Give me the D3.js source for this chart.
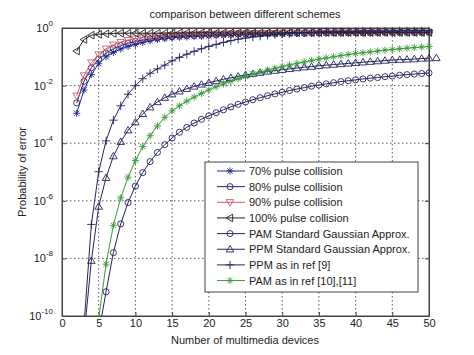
<!DOCTYPE html>
<html><head><meta charset="utf-8">
<script src="https://cdn.jsdelivr.net/npm/d3@7"></script>
<style>body{margin:0;background:#fff}svg{display:block;font-family:"Liberation Sans",Arial,sans-serif}</style>
</head><body><svg id="c" width="474" height="355"></svg>
<script>
const titleText = "comparison between different schemes";
const xLabelText = "Number of multimedia devices";
const yLabelText = "Probability of error";
const xTickValues = [0,5,10,15,20,25,30,35,40,45,50];
const yTickExps = [0,-2,-4,-6,-8,-10];
const legendNames = ["70% pulse collision","80% pulse collision","90% pulse collision","100% pulse collision",
  "PAM Standard Gaussian Approx.","PPM Standard Gaussian Approx.","PPM as in ref [9]","PAM as in ref [10],[11]"];

// log10(probability of error), one value per device count, starting at the given first N
const first70 = 2;
const log70 = [-2.96,-2.15,-1.62,-1.24,-1.0,-0.85,-0.73,-0.64,-0.57,-0.5,-0.44,-0.4,-0.37,-0.34,-0.32,-0.31,-0.3,-0.29,-0.28,-0.27,-0.26,-0.25,-0.24,-0.23,-0.22,-0.21,-0.21,-0.2,-0.2,-0.19,-0.19,-0.19,-0.18,-0.18,-0.18,-0.18,-0.17,-0.17,-0.17,-0.17,-0.17,-0.17,-0.16,-0.16,-0.16,-0.16,-0.16,-0.16,-0.16];
const first80 = 2;
const log80 = [-2.6,-1.85,-1.38,-1.08,-0.87,-0.72,-0.61,-0.53,-0.47,-0.42,-0.38,-0.35,-0.32,-0.3,-0.28,-0.27,-0.26,-0.25,-0.24,-0.23,-0.22,-0.21,-0.21,-0.2,-0.2,-0.19,-0.19,-0.19,-0.18,-0.18,-0.18,-0.18,-0.18,-0.17,-0.17,-0.17,-0.17,-0.17,-0.17,-0.17,-0.17,-0.16,-0.16,-0.16,-0.16,-0.16,-0.16,-0.16,-0.16];
const first90 = 2;
const log90 = [-2.35,-1.65,-1.2,-0.92,-0.72,-0.58,-0.49,-0.42,-0.37,-0.33,-0.3,-0.28,-0.26,-0.25,-0.24,-0.23,-0.22,-0.21,-0.21,-0.2,-0.2,-0.19,-0.19,-0.19,-0.18,-0.18,-0.18,-0.18,-0.17,-0.17,-0.17,-0.17,-0.17,-0.17,-0.17,-0.17,-0.16,-0.16,-0.16,-0.16,-0.16,-0.16,-0.16,-0.16,-0.16,-0.16,-0.16,-0.16,-0.16];
const first100 = 2;
const log100 = [-0.8,-0.4,-0.25,-0.22,-0.2,-0.19,-0.18,-0.18,-0.18,-0.18,-0.18,-0.18,-0.18,-0.18,-0.17,-0.17,-0.17,-0.17,-0.17,-0.17,-0.17,-0.17,-0.17,-0.17,-0.17,-0.17,-0.17,-0.17,-0.17,-0.16,-0.16,-0.16,-0.16,-0.16,-0.16,-0.16,-0.16,-0.16,-0.16,-0.16,-0.16,-0.16,-0.16,-0.16,-0.16,-0.16,-0.16,-0.16,-0.16];
const firstPamSga = 5;
const logPamSga = [-10.6,-9.16,-7.8,-6.8,-6.06,-5.49,-5.02,-4.64,-4.32,-4.05,-3.82,-3.62,-3.45,-3.3,-3.17,-3.05,-2.94,-2.84,-2.74,-2.65,-2.57,-2.49,-2.42,-2.35,-2.29,-2.23,-2.17,-2.12,-2.07,-2.02,-1.98,-1.94,-1.9,-1.86,-1.83,-1.8,-1.77,-1.74,-1.72,-1.69,-1.67,-1.64,-1.62,-1.6,-1.58,-1.56];
const firstPpmSga = 3;
const logPpmSga = [-10.7,-8.08,-6.2,-5.2,-4.45,-3.95,-3.55,-3.27,-2.98,-2.75,-2.57,-2.42,-2.3,-2.2,-2.11,-2.03,-1.96,-1.9,-1.84,-1.78,-1.73,-1.68,-1.63,-1.59,-1.55,-1.51,-1.48,-1.45,-1.42,-1.39,-1.36,-1.34,-1.31,-1.29,-1.27,-1.25,-1.23,-1.21,-1.19,-1.17,-1.15,-1.13,-1.11,-1.1,-1.09,-1.08,-1.06,-1.05,-1.04];
const firstPpmRef = 3;
const logPpmRef = [-10.3,-6.82,-4.99,-3.92,-3.2,-2.7,-2.3,-2.0,-1.76,-1.57,-1.42,-1.29,-1.14,-1.02,-0.91,-0.81,-0.72,-0.64,-0.57,-0.5,-0.44,-0.39,-0.35,-0.31,-0.28,-0.25,-0.23,-0.21,-0.19,-0.17,-0.16,-0.15,-0.14,-0.13,-0.13,-0.12,-0.12,-0.12,-0.11,-0.11,-0.11,-0.11,-0.11,-0.1,-0.1,-0.1,-0.1,-0.1];
const firstPamRef = 5;
const logPamRef = [-10.1,-8.2,-6.85,-5.9,-5.18,-4.6,-4.12,-3.74,-3.4,-3.1,-2.88,-2.7,-2.54,-2.4,-2.27,-2.15,-2.04,-1.94,-1.85,-1.76,-1.68,-1.6,-1.53,-1.46,-1.4,-1.34,-1.28,-1.23,-1.18,-1.13,-1.08,-1.04,-1.0,-0.96,-0.92,-0.89,-0.86,-0.83,-0.8,-0.77,-0.75,-0.72,-0.7,-0.68,-0.66,-0.64];

const NAVY = "#24245e", BLUE = "#2626a0", RED = "#cc5a6a", BLACK = "#222", GREEN = "#3a9a3a";
const series = [
  {name: legendNames[0], first: first70, logs: log70, color: BLUE, marker: "star"},
  {name: legendNames[1], first: first80, logs: log80, color: NAVY, marker: "circle"},
  {name: legendNames[2], first: first90, logs: log90, color: RED, marker: "tridown"},
  {name: legendNames[3], first: first100, logs: log100, color: BLACK, marker: "trileft"},
  {name: legendNames[4], first: firstPamSga, logs: logPamSga, color: NAVY, marker: "circle"},
  {name: legendNames[5], first: firstPpmSga, logs: logPpmSga, color: NAVY, marker: "triup"},
  {name: legendNames[6], first: firstPpmRef, logs: logPpmRef, color: NAVY, marker: "plus"},
  {name: legendNames[7], first: firstPamRef, logs: logPamRef, color: GREEN, marker: "star"}
];

const W = 474, H = 355;
const L = 62, R = 429, T = 28, B = 316;
const svg = d3.select("#c");
svg.append("rect").attr("width", W).attr("height", H).attr("fill", "#fff");

const x = d3.scaleLinear().domain([0, 50]).range([L, R]);
const y = d3.scaleLog().domain([1e-10, 1]).range([B, T]);

svg.append("defs").append("clipPath").attr("id", "clip")
  .append("rect").attr("x", L).attr("y", T).attr("width", R - L).attr("height", B - T);

// grid
const grid = svg.append("g").attr("stroke", "#333").attr("stroke-width", 0.8).attr("stroke-dasharray", "1.5,2.5");
xTickValues.slice(1, -1).forEach(v => grid.append("line").attr("x1", x(v)).attr("x2", x(v)).attr("y1", T).attr("y2", B));
yTickExps.slice(1, -1).forEach(e => grid.append("line").attr("x1", L).attr("x2", R).attr("y1", y(Math.pow(10, e))).attr("y2", y(Math.pow(10, e))));

// axes via d3 axis
const axB = svg.append("g").attr("transform", `translate(0,${B})`)
  .call(d3.axisBottom(x).tickValues(xTickValues).tickSizeInner(-4).tickSizeOuter(0).tickPadding(3));
const axT = svg.append("g").attr("transform", `translate(0,${T})`)
  .call(d3.axisTop(x).tickValues(xTickValues).tickSizeInner(-4).tickSizeOuter(0).tickFormat(""));
const yTickVals = yTickExps.map(e => Math.pow(10, e));
const axL = svg.append("g").attr("transform", `translate(${L},0)`)
  .call(d3.axisLeft(y).tickValues(yTickVals).tickSizeInner(-4).tickSizeOuter(0).tickFormat(""));
const axR = svg.append("g").attr("transform", `translate(${R},0)`)
  .call(d3.axisRight(y).tickValues(yTickVals).tickSizeInner(-4).tickSizeOuter(0).tickFormat(""));
[axB, axT, axL, axR].forEach(a => { a.select(".domain").attr("stroke", "#444"); a.selectAll(".tick line").attr("stroke", "#444"); });
axB.selectAll(".tick text").attr("font-size", 11).attr("fill", "#222").attr("font-family", "Liberation Sans, Arial, sans-serif");

// y tick labels with superscripts
const yl = svg.append("g").attr("font-size", 11).attr("fill", "#222");
yTickExps.forEach(e => {
  const t = yl.append("text").attr("x", 53).attr("y", y(Math.pow(10, e)) + 4).attr("text-anchor", "end");
  t.append("tspan").text("10");
  t.append("tspan").attr("font-size", 8).attr("dy", -6).text(String(e));
});
// box
svg.append("rect").attr("x", L).attr("y", T).attr("width", R - L).attr("height", B - T)
  .attr("fill", "none").attr("stroke", "#444").attr("stroke-width", 1);

function markerPath(m, s) {
  const a = s * 0.72;
  switch (m) {
    case "star": return `M${-s},0L${s},0M0,${-s}L0,${s}M${-a},${-a}L${a},${a}M${-a},${a}L${a},${-a}`;
    case "plus": return `M${-s},0L${s},0M0,${-s}L0,${s}`;
    case "tridown": return `M${-s},${-s*0.7}L${s},${-s*0.7}L0,${s}Z`;
    case "triup": return `M${-s},${s*0.7}L${s},${s*0.7}L0,${-s}Z`;
    case "trileft": return `M${-s},0L${s*0.7},${-s}L${s*0.7},${s}Z`;
    case "circle": return d3.symbol(d3.symbolCircle, Math.PI * s * s * 0.72)();
  }
}
const MS = { star: 3.6, plus: 4.2, tridown: 3.8, triup: 3.8, trileft: 3.8, circle: 3.6 };

const plot = svg.append("g");
series.forEach(s => {
  const pts = s.logs.map((lv, i) => ({ n: s.first + i, p: Math.pow(10, lv) }));
  const line = d3.line().x(d => x(d.n)).y(d => y(d.p));
  plot.append("path").datum(pts).attr("clip-path", "url(#clip)")
    .attr("d", line).attr("fill", "none").attr("stroke", s.color).attr("stroke-width", 1);
  plot.append("g").selectAll("path").data(pts.filter(d => d.p >= 1e-10)).join("path")
    .attr("transform", d => `translate(${x(d.n)},${y(d.p)})`)
    .attr("d", markerPath(s.marker, MS[s.marker]))
    .attr("fill", "none").attr("stroke", s.color).attr("stroke-width", 0.9);
});

// legend
const lg = svg.append("g");
const lx0 = 205, ly0 = 162, lw = 213, lh = 130, rowH = 15.65;
lg.append("rect").attr("x", lx0).attr("y", ly0).attr("width", lw).attr("height", lh)
  .attr("fill", "#fff").attr("stroke", "#444").attr("stroke-width", 1);
series.forEach((s, i) => {
  const cy = ly0 + 9 + i * rowH;
  lg.append("line").attr("x1", lx0 + 12).attr("x2", lx0 + 40).attr("y1", cy).attr("y2", cy)
    .attr("stroke", s.color).attr("stroke-width", 1);
  lg.append("path").attr("transform", `translate(${lx0 + 25},${cy})`)
    .attr("d", markerPath(s.marker, MS[s.marker])).attr("fill", "none").attr("stroke", s.color).attr("stroke-width", 0.9);
  lg.append("text").attr("x", lx0 + 44).attr("y", cy + 4).attr("font-size", 11).attr("fill", "#222").text(s.name);
});

// titles
svg.append("text").attr("x", 245).attr("y", 18).attr("text-anchor", "middle").attr("font-size", 11).attr("fill", "#222").text(titleText);
svg.append("text").attr("x", 245).attr("y", 344).attr("text-anchor", "middle").attr("font-size", 11).attr("fill", "#222").text(xLabelText);
svg.append("text").attr("transform", `translate(26,${(T + B) / 2}) rotate(-90)`).attr("text-anchor", "middle").attr("font-size", 11).attr("fill", "#222").text(yLabelText);
</script></body></html>
